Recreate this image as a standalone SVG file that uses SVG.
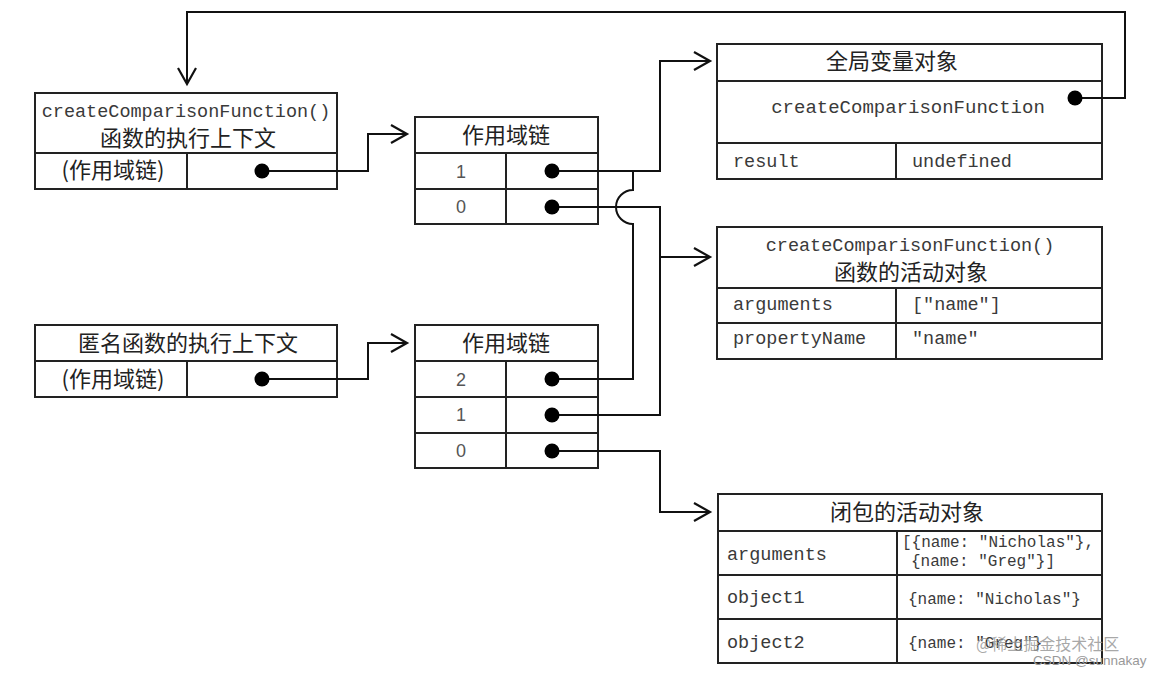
<svg xmlns="http://www.w3.org/2000/svg" width="1159" height="674" viewBox="0 0 1159 674">
<style>
.box{fill:#fff;stroke:#222;stroke-width:2}
.ln{stroke:#222;stroke-width:2;fill:none}
.cjk{font-family:"Noto Sans CJK SC","Noto Sans",sans-serif;font-size:22px;fill:#222}
.mono{font-family:"Liberation Mono","DejaVu Sans Mono",monospace;font-size:18.5px;fill:#3a3a3a}
.small{font-family:"Liberation Mono","DejaVu Sans Mono",monospace;font-size:16px;fill:#3a3a3a}
.num{font-family:"Liberation Sans",Arial,sans-serif;font-size:18px;fill:#555}
.mid{text-anchor:middle}
.con{stroke:#111;stroke-width:2;fill:none}
.dot{fill:#000}
</style>
<defs>
<marker id="arr" markerUnits="userSpaceOnUse" markerWidth="20" markerHeight="22" refX="17" refY="10" orient="auto" overflow="visible">
<path d="M1,1 L17,10 L1,19" fill="none" stroke="#111" stroke-width="2.2"/>
</marker>
</defs>

<g id="ctx1">
<rect class="box" x="35" y="93" width="302" height="96"/>
<line class="ln" x1="35" y1="153" x2="337" y2="153"/>
<line class="ln" x1="187" y1="153" x2="187" y2="189"/>
<text class="mono mid" x="186" y="117">createComparisonFunction()</text>
<text class="cjk mid" x="188" y="146">函数的执行上下文</text>
<text class="cjk mid" x="113" y="178">(作用域链)</text>
</g>

<g id="ctx2">
<rect class="box" x="35" y="325" width="302" height="72"/>
<line class="ln" x1="35" y1="361" x2="337" y2="361"/>
<line class="ln" x1="187" y1="361" x2="187" y2="397"/>
<text class="cjk mid" x="188" y="351">匿名函数的执行上下文</text>
<text class="cjk mid" x="113" y="387">(作用域链)</text>
</g>

<g id="scope1">
<rect class="box" x="415" y="117" width="183" height="107"/>
<line class="ln" x1="415" y1="153" x2="598" y2="153"/>
<line class="ln" x1="415" y1="189" x2="598" y2="189"/>
<line class="ln" x1="506" y1="153" x2="506" y2="224"/>
<text class="cjk mid" x="506" y="143">作用域链</text>
<text class="num mid" x="461" y="178">1</text>
<text class="num mid" x="461" y="213">0</text>
</g>

<g id="scope2">
<rect class="box" x="415" y="325" width="183" height="143"/>
<line class="ln" x1="415" y1="361" x2="598" y2="361"/>
<line class="ln" x1="415" y1="397" x2="598" y2="397"/>
<line class="ln" x1="415" y1="433" x2="598" y2="433"/>
<line class="ln" x1="506" y1="361" x2="506" y2="468"/>
<text class="cjk mid" x="506" y="351">作用域链</text>
<text class="num mid" x="461" y="386">2</text>
<text class="num mid" x="461" y="421">1</text>
<text class="num mid" x="461" y="457">0</text>
</g>

<g id="global">
<rect class="box" x="717" y="44" width="385" height="135"/>
<line class="ln" x1="717" y1="81" x2="1102" y2="81"/>
<line class="ln" x1="717" y1="143" x2="1102" y2="143"/>
<line class="ln" x1="896" y1="143" x2="896" y2="179"/>
<text class="cjk mid" x="892" y="69">全局变量对象</text>
<text class="mono mid" x="908" y="113" style="font-size:19px">createComparisonFunction</text>
<text class="mono" x="733" y="167">result</text>
<text class="mono" x="912" y="167">undefined</text>
</g>

<g id="activation">
<rect class="box" x="717" y="227" width="385" height="132"/>
<line class="ln" x1="717" y1="288" x2="1102" y2="288"/>
<line class="ln" x1="717" y1="323" x2="1102" y2="323"/>
<line class="ln" x1="896" y1="288" x2="896" y2="359"/>
<text class="mono mid" x="910" y="251">createComparisonFunction()</text>
<text class="cjk mid" x="911" y="280">函数的活动对象</text>
<text class="mono" x="733" y="310">arguments</text>
<text class="mono" x="912" y="310">["name"]</text>
<text class="mono" x="733" y="344">propertyName</text>
<text class="mono" x="912" y="344">"name"</text>
</g>

<g id="closure">
<rect class="box" x="718" y="494" width="384" height="169"/>
<line class="ln" x1="718" y1="531" x2="1102" y2="531"/>
<line class="ln" x1="718" y1="575" x2="1102" y2="575"/>
<line class="ln" x1="718" y1="619" x2="1102" y2="619"/>
<line class="ln" x1="897" y1="531" x2="897" y2="663"/>
<text class="cjk mid" x="907" y="520">闭包的活动对象</text>
<text class="mono" x="727" y="560">arguments</text>
<text class="small" x="902" y="547">[{name: "Nicholas"},</text>
<text class="small" x="911" y="566">{name: "Greg"}]</text>
<text class="mono" x="727" y="603">object1</text>
<text class="small" x="908" y="604">{name: "Nicholas"}</text>
<text class="mono" x="727" y="648">object2</text>
<text class="small" x="908" y="648">{name: "Greg"}</text>
</g>

<g id="connectors">
<path class="con" d="M262,171 H368 V134 H407" marker-end="url(#arr)"/>
<path class="con" d="M262,379 H368 V343 H407" marker-end="url(#arr)"/>
<path class="con" d="M552,171 H660 V61 H710" marker-end="url(#arr)"/>
<path class="con" d="M552,379 H633 V224 A17,17 0 0 1 633,190 V171"/>
<path class="con" d="M552,207 H660 V257 H710" marker-end="url(#arr)"/>
<path class="con" d="M552,415 H660 V257"/>
<path class="con" d="M552,451 H660 V512 H710" marker-end="url(#arr)"/>
<path class="con" d="M1075,98 H1125 V12 H187 V84" marker-end="url(#arr)"/>
<circle class="dot" cx="262" cy="171" r="7.5"/>
<circle class="dot" cx="262" cy="379" r="7.5"/>
<circle class="dot" cx="552" cy="171" r="7.5"/>
<circle class="dot" cx="552" cy="207" r="7.5"/>
<circle class="dot" cx="552" cy="379" r="7.5"/>
<circle class="dot" cx="552" cy="415" r="7.5"/>
<circle class="dot" cx="552" cy="451" r="7.5"/>
<circle class="dot" cx="1075" cy="98" r="7.5"/>
</g>

<g id="watermark">
<text x="976" y="650" style="font-family:'Noto Sans CJK SC','Noto Sans',sans-serif;font-size:16px;fill:#999;fill-opacity:0.85">@稀土掘金技术社区</text>
<text x="1033" y="665" style="font-family:'Liberation Sans',Arial,sans-serif;font-size:13.5px;fill:#999">CSDN @sunnakay</text>
</g>
</svg>
